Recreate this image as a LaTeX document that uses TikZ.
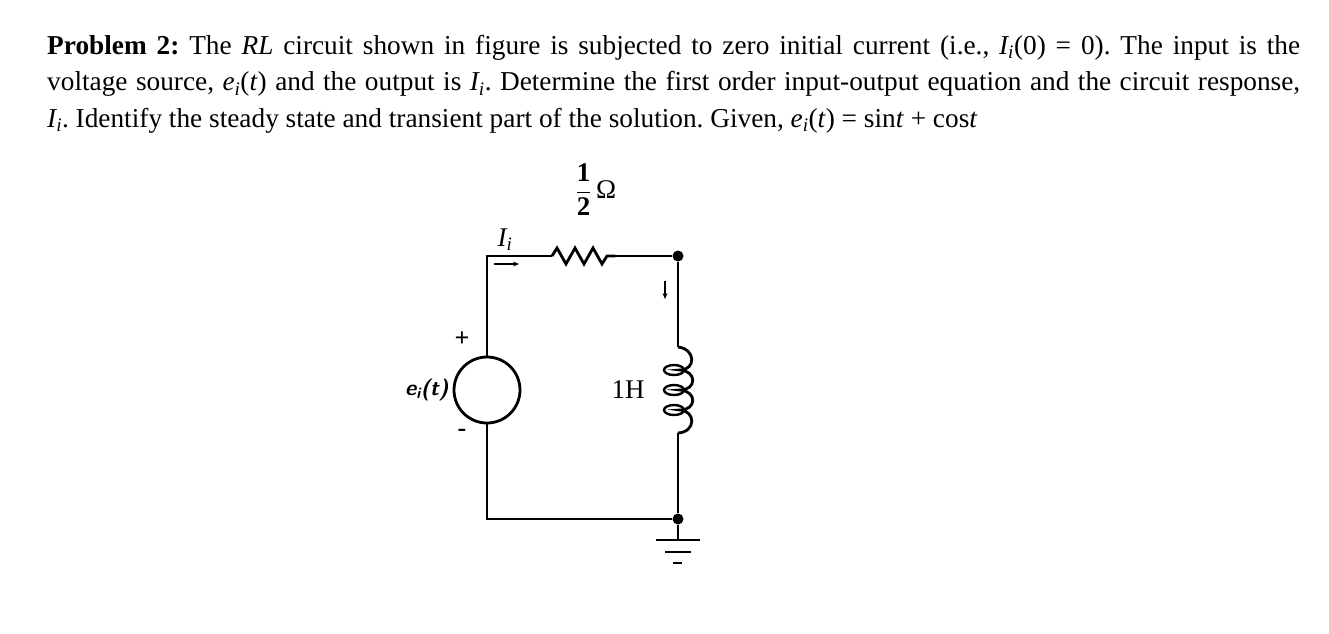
\documentclass[tikz,border=0pt]{standalone}
\usepackage{fontspec}
\setmainfont{Liberation Serif}
\usetikzlibrary{arrows.meta}
\begin{document}
\frenchspacing
\begin{tikzpicture}[x=1pt,y=-1pt,
  wire/.style={line width=2.8pt},
  dotn/.style={circle,fill,inner sep=0pt,minimum size=11pt},
  arr/.style={-{Stealth[length=6pt,width=5pt]},line width=1.2pt}]
\useasboundingbox (0,0) rectangle (1329,633);
\node[anchor=north west,text width=1253pt,align=justify,inner sep=0pt,
  font=\fontsize{27.3pt}{36.5pt}\selectfont\frenchspacing] (txt) at (47,35)
{\textbf{Problem 2:} The \textit{RL} circuit shown in figure is subjected to zero initial current (i.e., \textit{I\textsubscript{i}}(0)~=~0). The input is the\linebreak
voltage source, \textit{e\textsubscript{i}}(\textit{t}) and the output is \textit{I\textsubscript{i}}. Determine the first order input-output equation and the circuit response,\linebreak
\textit{I\textsubscript{i}}. Identify the steady state and transient part of the solution. Given, \textit{e\textsubscript{i}}(\textit{t}) = sin\textit{t} + cos\textit{t}\par};
% coordinates
\coordinate (tl) at (487,256);
\coordinate (r1) at (552,256);
\coordinate (r2) at (615,256);
\node[dotn] (tr) at (678,256) {};
\node[dotn] (br) at (678,519) {};
\coordinate (bl) at (487,519);
\node[circle,draw,line width=2.8pt,minimum size=66pt,inner sep=0pt] (src) at (487,390) {};
\coordinate (l1) at (678,347);
\coordinate (l2) at (678,433);
\coordinate (g) at (678,540);
% wires
\draw[wire] (src.north) -- (tl) -- (r1);
\draw[wire,line join=miter] (r1) -- ++(5,-8) -- ++(9,16) -- ++(9,-16) -- ++(9,16) -- ++(9,-16) -- ++(9,16) -- ++(5,-8) -- (r2);
\draw[wire] (r2) -- (tr) -- (l1);
% inductor
\draw[wire] (l1) .. controls (696,349) and (696,370) .. (680,370)
  .. controls (697,371) and (697,390) .. (680,390)
  .. controls (697,391) and (697,410) .. (680,410)
  .. controls (696,411) and (696,432) .. (l2);
\draw[line width=2.4pt] (674,370) ellipse (10pt and 5pt);
\draw[line width=2.4pt] (674,390) ellipse (10pt and 5pt);
\draw[line width=2.4pt] (674,410) ellipse (10pt and 5pt);
\draw[wire] (l2) -- (br) -- (bl) -- (src.south);
\draw[wire] (br) -- (g);
\draw[wire] (656,540) -- (700,540);
\draw[wire] (665,552) -- (691,552);
\draw[wire] (673,563) -- (682,563);
% arrows
\draw[arr] (494,264) -- (519,264);
\draw[arr] (665,281) -- (665,299);
% labels
\node[font=\fontsize{27pt}{27pt}\selectfont] (R) at (596,190) {$\displaystyle\frac{\textbf{1}}{\textbf{2}}$\,Ω};
\node[font=\fontsize{27pt}{27pt}\selectfont] (I) at (505,240) {\textit{I\textsubscript{i}}};
\node[font=\fontsize{26pt}{26pt}\selectfont] (plus) at (462,339) {\textbf{+}};
\node[font=\fontsize{26pt}{26pt}\selectfont] (minus) at (462,433) {\textbf{-}};
\node[font=\sffamily\itshape\bfseries\fontsize{22pt}{22pt}\selectfont,anchor=east] (e) at (452,390) {e\textsubscript{i}(t)};
\node[font=\fontsize{27pt}{27pt}\selectfont] (H) at (628,390) {1H};
\end{tikzpicture}
\end{document}
